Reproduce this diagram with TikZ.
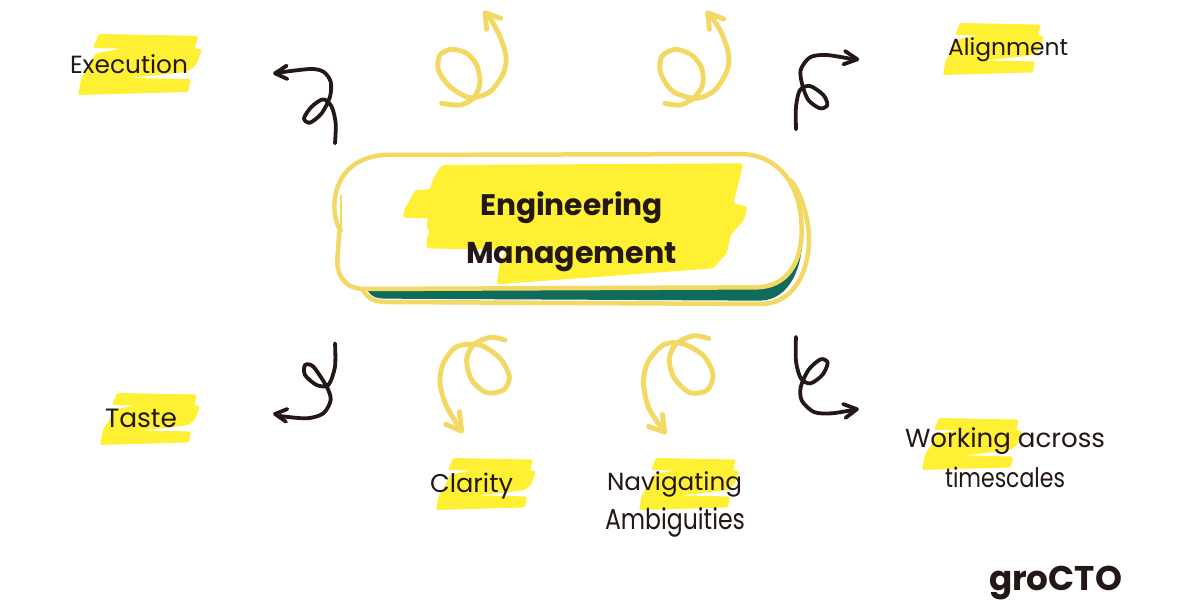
\documentclass[tikz,border=0pt]{standalone}
\usepackage{fontspec}
\setmainfont{Poppins}
\usepackage{graphicx}
\definecolor{ink}{HTML}{231815}
\definecolor{marker}{HTML}{FFF033}
\definecolor{sketch}{HTML}{F3D964}
\definecolor{teal}{HTML}{0F6B5C}
\tikzset{
  x=0.05cm,y=-0.05cm,
  curlY/.style={draw=sketch,line width=7pt,line cap=round,line join=round},
  curlK/.style={draw=ink,line width=5.4pt,line cap=round,line join=round},
  boxline/.style={draw=sketch,line width=6.4pt,line cap=round,line join=round},
  brushfill/.style={fill=marker,draw=none,rounded corners=3pt},
  lbl/.style={anchor=base west,inner sep=0pt,outer sep=0pt,text=ink},
  zoomA/.style={shift={(50,0)},scale=1/3},
  zoomB/.style={shift={(640,0)},scale=1/3},
  zoomC/.style={shift={(80,330)},scale=1/3},
  zoomD/.style={shift={(590,330)},scale=0.3444},
  zoomE/.style={shift={(320,140)},scale=1/3},
}
\newcommand{\brushmark}[4]{%
  \begin{scope}[shift={(#1,#2)},xscale=#3,yscale=#4]
    \path[brushfill] (.17,0)--(.97,.03)--(.94,.24)--(1,.25)--(.95,.52)--(.88,.62)--(.42,.72)--(.91,.74)--(.89,.95)--(0,1)--(.03,.7)--(.10,.5)--(.14,.32)--(.35,.24)--(.12,.23)--cycle;
  \end{scope}}
\newcommand{\fitlabel}[5]{\node[lbl] (#1) at (#2,#3) {\resizebox{#4\dimexpr 0.05cm\relax}{!}{#5}};}
\newcommand{\tallword}[1]{\scalebox{1}[1.22]{#1}}
\begin{document}
\begin{tikzpicture}
\useasboundingbox (0,0) rectangle (1200,600);
\fill[white] (0,0) rectangle (1200,600);

% back of central box
\begin{scope}[zoomE]
\fill[teal] (140,440)--(145,455) .. controls (155,470) and (170,476) .. (200,476) -- (1320,482) .. controls (1410,480) and (1450,380) .. (1447,280) -- (1438,205) -- (1300,300) -- cycle;
\draw[boxline] (130,452) .. controls (145,475) and (160,485) .. (200,486) -- (1320,492) .. controls (1420,492) and (1465,400) .. (1467,300) .. controls (1467,230) and (1440,150) .. (1410,120);
\draw[boxline,fill=white] (62,272) .. controls (30,230) and (20,60) .. (190,45) -- (1260,42) .. controls (1370,42) and (1445,130) .. (1445,270) .. controls (1445,370) and (1400,440) .. (1310,442) -- (130,447) .. controls (70,445) and (50,400) .. (52,360) -- (58,275);
\draw[draw=sketch,line width=3pt,line cap=round] (62,168)--(62,272);
\path[fill=marker,rounded corners=4pt] (365,75)--(1268,70)--(1262,105)--(1240,190)--(1282,200)--(1272,240)--(1232,285)--(1220,340)--(1180,385)--(530,433)--(540,365)--(560,330)--(320,325)--(320,295)--(330,272)--(318,262)--(325,235)--(250,233)--(250,215)--(285,150)--(330,148)--(340,115)--cycle;
\end{scope}

% label highlights
\brushmark{78}{34}{124}{61}
\brushmark{943}{23}{101}{52}
\brushmark{100}{393}{100}{52}
\brushmark{436}{458}{100}{52}
\brushmark{639}{458}{100}{52}
\brushmark{922}{418}{100}{52}

% curls
\begin{scope}[zoomA]
\draw[curlY] plot[smooth] coordinates {(1175,310)(1230,315)(1270,295)(1290,250)(1280,195)(1250,160)(1205,148)(1170,165)(1165,210)(1200,260)(1260,293)(1320,275)(1360,220)(1368,170)(1350,110)(1318,50)};
\draw[curlY] (1310,88)--(1305,38)--(1352,55);
\draw[curlK] plot[smooth] coordinates {(855,430)(857,370)(845,320)(820,298)(785,320)(762,355)(780,368)(815,340)(840,290)(842,245)(820,215)(780,207)(685,218)};
\draw[curlK] (710,197)--(675,220)--(712,237);
\end{scope}
\begin{scope}[zoomB]
\draw[curlY] plot[smooth] coordinates {(75,310)(120,315)(160,295)(188,255)(185,205)(155,165)(105,148)(65,170)(62,220)(100,275)(170,295)(225,270)(262,210)(265,160)(245,100)(215,50)};
\draw[curlY] (208,88)--(203,38)--(252,57);
\draw[curlK] plot[smooth] coordinates {(468,388)(468,320)(480,270)(510,258)(550,285)(562,315)(540,325)(505,300)(487,255)(482,210)(510,172)(560,165)(640,178)};
\draw[curlK] (615,153)--(652,178)--(610,193);
\end{scope}
\begin{scope}[zoomC]
\draw[curlK] plot[smooth] coordinates {(765,40)(765,110)(745,165)(710,165)(675,135)(675,105)(700,110)(740,170)(752,210)(730,250)(680,265)(600,258)};
\draw[curlK] (622,237)--(585,252)--(618,275);
\draw[curlY] plot[smooth] coordinates {(1275,30)(1230,22)(1180,45)(1160,90)(1175,150)(1220,188)(1270,180)(1288,140)(1260,85)(1200,45)(1130,50)(1090,100)(1080,160)(1100,230)(1140,295)};
\draw[curlY] (1097,283)--(1145,303)--(1138,245);
\end{scope}
\begin{scope}[zoomD]
\draw[curlY] plot[smooth] coordinates {(345,25)(300,17)(250,40)(230,85)(245,140)(290,182)(340,175)(357,130)(330,75)(270,40)(215,42)(170,90)(155,150)(170,225)(212,290)};
\draw[curlY] (170,280)--(217,297)--(210,245);
\draw[curlK] plot[smooth] coordinates {(598,20)(598,90)(612,140)(640,155)(675,130)(690,95)(670,85)(635,115)(612,165)(615,205)(650,238)(700,242)(765,232)};
\draw[curlK] (735,215)--(775,230)--(742,255);
\end{scope}

% text
\fitlabel{title1}{480}{215}{183}{\bfseries Engineering}
\fitlabel{title2}{466}{263}{211}{\bfseries Management}
\fitlabel{exec}{70}{73}{118}{Execution}
\fitlabel{align}{948}{55}{120}{Alignment}
\fitlabel{taste}{105}{427}{72}{Taste}
\fitlabel{clarity}{430}{492}{83}{Clarity}
\fitlabel{nav}{607}{490}{135}{Navigating}
\fitlabel{amb}{605}{529}{140}{\tallword{Ambiguities}}
\fitlabel{work}{905}{447}{200}{Working across}
\fitlabel{time}{945}{487}{120}{\tallword{timescales}}
\fitlabel{brand}{989}{590}{133}{\bfseries groCTO}
\end{tikzpicture}
\end{document}
